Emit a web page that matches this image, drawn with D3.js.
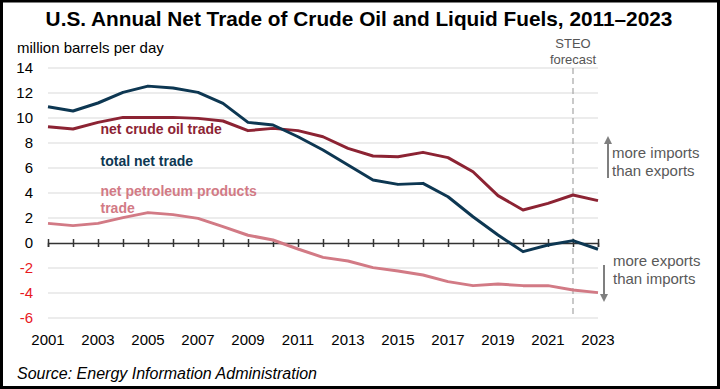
<html>
<head>
<script src="https://cdn.jsdelivr.net/npm/d3@7"></script>
<style>
  body { margin: 0; background: #fff; }
  text { font-family: "Liberation Sans", Arial, sans-serif; }
</style>
</head>
<body>
<div id="chart"></div>
<script>
// data
var years = d3.range(2001, 2024)
var totalNet = [10.9, 10.56, 11.2, 12.05, 12.55, 12.4, 12.05, 11.17, 9.65, 9.44, 8.5, 7.44, 6.24, 5.04, 4.69, 4.77, 3.7, 2.1, 0.64, -0.69, -0.16, 0.19, -0.5]
var crudeNet = [9.3, 9.12, 9.65, 10.05, 10.05, 10.05, 9.97, 9.76, 8.99, 9.17, 8.99, 8.5, 7.57, 6.96, 6.9, 7.25, 6.83, 5.7, 3.79, 2.64, 3.17, 3.84, 3.39]
var productsNet = [1.57, 1.39, 1.57, 2.03, 2.43, 2.27, 1.97, 1.31, 0.62, 0.24, -0.48, -1.15, -1.44, -1.97, -2.24, -2.56, -3.09, -3.41, -3.28, -3.41, -3.41, -3.76, -3.97]
var yTicks = [14, 12, 10, 8, 6, 4, 2, 0, -2, -4, -6]
var xLabels = d3.range(2001, 2024, 2)
var forecastYear = 2022

var W = 720, H = 389
var margin = {top: 68, right: 122, bottom: 71, left: 48}
var width = W - margin.left - margin.right
var height = H - margin.top - margin.bottom

var svg = d3.select("#chart").append("svg")
  .attr("width", W).attr("height", H)

var g = svg.append("g")
  .attr("transform", "translate(" + margin.left + "," + margin.top + ")")

var x = d3.scaleLinear().domain([2001, 2023]).range([0, width])
var y = d3.scaleLinear().domain([-6, 14]).range([height, 0])

// gridlines
g.append("g").selectAll("line")
  .data(yTicks.filter(d => d != 0))
  .enter().append("line")
  .attr("x1", 0).attr("x2", width)
  .attr("y1", d => y(d)).attr("y2", d => y(d))
  .attr("stroke", "#d9d9d9").attr("stroke-width", 1)

// y labels
g.append("g").selectAll("text")
  .data(yTicks)
  .enter().append("text")
  .attr("x", -15).attr("y", d => y(d) + 5)
  .attr("text-anchor", "end")
  .attr("font-size", 15)
  .attr("fill", d => d < 0 ? "#e8191e" : "#000")
  .text(d => d)

// forecast line
g.append("line")
  .attr("x1", x(forecastYear)).attr("x2", x(forecastYear))
  .attr("y1", 0).attr("y2", height)
  .attr("stroke", "#a6a6a6").attr("stroke-width", 1.2)
  .attr("stroke-dasharray", "6,4")

g.append("text").attr("x", x(forecastYear)).attr("y", -20)
  .attr("text-anchor", "middle").attr("font-size", 13).attr("fill", "#555")
  .text("STEO")
g.append("text").attr("x", x(forecastYear)) .attr("y", -4)
  .attr("text-anchor", "middle").attr("font-size", 13).attr("fill", "#555")
  .text("forecast")

// zero axis with yearly ticks
var xAxis = d3.axisBottom(x).tickValues(years).tickSize(4).tickFormat("")
var ax = g.append("g").attr("transform", "translate(0," + y(0) + ")").call(xAxis)
ax.select(".domain").attr("stroke", "#333").attr("stroke-width", 1.5)
ax.selectAll(".tick line").attr("y1", -4).attr("stroke", "#333").attr("stroke-width", 1.5)

// x labels
g.append("g").selectAll("text")
  .data(xLabels)
  .enter().append("text")
  .attr("x", d => x(d)).attr("y", height + 27)
  .attr("text-anchor", "middle").attr("font-size", 15)
  .text(d => d)

// lines
var line = d3.line().x((d, i) => x(years[i])).y(d => y(d))
var series = [
  {vals: productsNet, color: "#d27a85"},
  {vals: crudeNet, color: "#8c2333"},
  {vals: totalNet, color: "#0d3752"}
]
series.forEach(function(s) {
  g.append("path").datum(s.vals)
    .attr("fill", "none").attr("stroke", s.color)
    .attr("stroke-width", 3).attr("stroke-linejoin", "round")
    .attr("d", line)
})

// inline labels
var lab = g.append("g").attr("font-size", 14).attr("font-weight", "bold")
lab.append("text").attr("x", x(2003.1)).attr("y", y(8.72)).attr("fill", "#8c2333").text("net crude oil trade")
lab.append("text").attr("x", x(2003.1)).attr("y", y(6.16)).attr("fill", "#0d3752").text("total net trade")
lab.append("text").attr("x", x(2003.1)).attr("y", y(3.75)).attr("fill", "#d27a85").text("net petroleum products")
lab.append("text").attr("x", x(2003.1)).attr("y", y(2.4)).attr("fill", "#d27a85").text("trade")

// right annotations
var ann = svg.append("g").attr("font-size", 15).attr("fill", "#595959")
svg.append("defs").append("marker").attr("id", "ah")
  .attr("viewBox", "0 0 10 10").attr("refX", 5).attr("refY", 5)
  .attr("markerWidth", 4).attr("markerHeight", 4).attr("orient", "auto")
  .append("path").attr("d", "M0,0L10,5L0,10Z").attr("fill", "#7f7f7f")
svg.append("line").attr("x1", 608).attr("x2", 608).attr("y1", 178).attr("y2", 140)
  .attr("stroke", "#7f7f7f").attr("stroke-width", 2).attr("marker-end", "url(#ah)")
svg.append("line").attr("x1", 604).attr("x2", 604).attr("y1", 265).attr("y2", 298)
  .attr("stroke", "#7f7f7f").attr("stroke-width", 2).attr("marker-end", "url(#ah)")
ann.append("text").attr("x", 612).attr("y", 158).text("more imports")
ann.append("text").attr("x", 612).attr("y", 176).text("than exports")
ann.append("text").attr("x", 613).attr("y", 266).text("more exports")
ann.append("text").attr("x", 613).attr("y", 284).text("than imports")

// title, unit, source
svg.append("text").attr("x", 359).attr("y", 26).attr("text-anchor", "middle")
  .attr("font-size", 20.8).attr("font-weight", "bold")
  .text("U.S. Annual Net Trade of Crude Oil and Liquid Fuels, 2011\u20132023")
svg.append("text").attr("x", 17).attr("y", 53).attr("font-size", 15)
  .text("million barrels per day")
svg.append("text").attr("x", 17).attr("y", 379).attr("font-size", 16)
  .attr("font-style", "italic")
  .text("Source: Energy Information Administration")

// frame
svg.append("rect").attr("x", 1.5).attr("y", 1).attr("width", W - 3).attr("height", H - 2.5)
  .attr("fill", "none").attr("stroke", "#000").attr("stroke-width", 3)
</script>
</body>
</html>
